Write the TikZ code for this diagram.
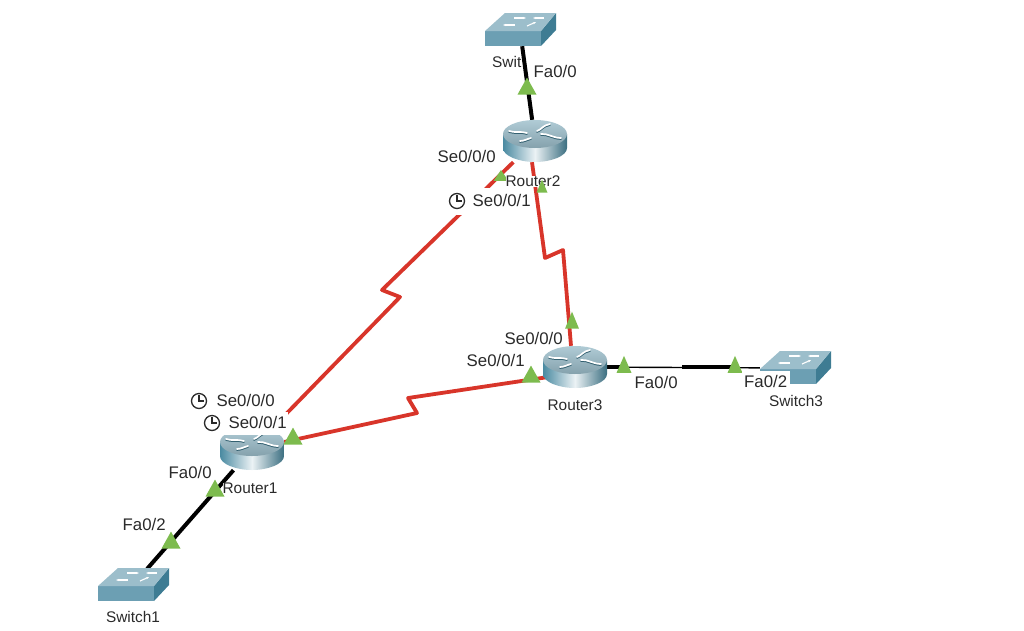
\documentclass[tikz,border=0pt]{standalone}
\usepackage{fontspec}
\setmainfont{Liberation Sans}
\usetikzlibrary{shapes.geometric, arrows.meta, positioning}

\definecolor{serialred}{HTML}{D8352A}
\definecolor{portgreen}{HTML}{7DBB4E}
\definecolor{capteal}{HTML}{9CBECB}
\definecolor{bodyteal}{HTML}{4A8AA1}
\definecolor{frontteal}{HTML}{6C9FB3}
\definecolor{sideteal}{HTML}{3E7C93}
\definecolor{labelgrey}{HTML}{2A2A2A}

\tikzset{
    devbox/.style={minimum width=64pt, minimum height=42pt, inner sep=0pt},
    swbox/.style={minimum width=70pt, minimum height=32pt, inner sep=0pt},
    seriallink/.style={serialred, line width=3.8pt, line join=round},
    copperlink/.style={black, line width=4pt},
    thinlink/.style={black, line width=1.4pt},
    porttri/.style={isosceles triangle, isosceles triangle stretches, shape border rotate=90,
        fill=portgreen, inner sep=0pt, minimum width=#1, minimum height=17pt},
    porttri/.default=19pt,
    devlabel/.style={text=labelgrey, inner sep=0pt, text height=11pt, text depth=0pt,
        font=\fontsize{15.4}{16}\selectfont},
    portlabel/.style={devlabel, fill=white, inner xsep=1.5pt, inner ysep=1pt,
        font=\fontsize{16.8}{17}\selectfont},
    clockic/.style={circle, draw=labelgrey, line width=1.3pt, minimum size=15pt, inner sep=0pt,
        path picture={\draw [labelgrey, line width=1.2pt]
            ([yshift=6pt]path picture bounding box.center) -- (path picture bounding box.center)
            -- ([xshift=5pt]path picture bounding box.center);}},
    routeric/.pic={
        \shade [left color=bodyteal, right color=bodyteal!80!black, middle color=white!80!capteal]
            (-32,-7) -- (-32,7) .. controls (-32,15) and (-16,21) .. (0,21)
            .. controls (16,21) and (32,15) .. (32,7) -- (32,-7) -- cycle;
        \shade [top color=capteal!80!white, bottom color=capteal!85!black]
            (0,-7) ellipse [x radius=32pt, y radius=14pt];
        \draw [bodyteal!70!black, line width=1.7pt, line cap=round]
            (-26,-9) .. controls (-20,-7) and (-14,-9) .. (-8,-7)
            (6,-6) .. controls (12,-7) and (18,-2) .. (26,-2)
            (2,-9) .. controls (6,-10) and (8,-15) .. (15,-16)
            (-4,-2) .. controls (-8,-1) and (-11,1) .. (-15,1);
        \draw [white, line width=1.7pt, line cap=round]
            (-26,-10) .. controls (-20,-8) and (-14,-10) .. (-8,-8)
            (6,-7) .. controls (12,-8) and (18,-3) .. (26,-3)
            (2,-10) .. controls (6,-11) and (8,-16) .. (15,-17)
            (-4,-3) .. controls (-8,-2) and (-11,0) .. (-15,0);
    },
    switchic/.pic={
        \fill [frontteal] (-35,1) rectangle (21,16);
        \fill [sideteal] (21,1) -- (36,-17) -- (36,0) -- (21,16) -- cycle;
        \fill [capteal] (-15,-17) -- (36,-17) -- (21,1) -- (-35,1) -- cycle;
        \draw [white, line width=1.1pt, -{Stealth[length=3pt]}] (-6,-12) -- (6,-12);
        \draw [white, line width=1.1pt, -{Stealth[length=3pt]}] (24,-12) -- (13,-12);
        \draw [white, line width=1.1pt, -{Stealth[length=3pt]}] (-5,-5) -- (-17,-5);
        \draw [white, line width=1.1pt, -{Stealth[length=3pt]}] (7,-4) -- (16,-8);
    },
}

\begin{document}
\begin{tikzpicture}[x=1pt, y=-1pt]
    \useasboundingbox (0,0) rectangle (1024,630);

    \node (router1) [devbox] at (252,449) {};
    \node (router2) [devbox] at (535,141) {};
    \node (router3) [devbox] at (575,367) {};
    \node (switch1) [swbox] at (133,585) {};
    \node (switch2) [swbox] at (520,30) {};
    \node (switch3) [swbox] at (795,368) {};
    \coordinate (thick1a) at (607,367);
    \coordinate (thick1b) at (625,367);
    \coordinate (thick2a) at (682,367);
    \coordinate (thick2b) at (735,367);

    % this label lies under the cable
    \node (nameswitch2) [devlabel, anchor=west] at (492,62) {Swit};

    \draw [copperlink] (switch2) -- (router2);
    \draw [copperlink] (router1) -- (switch1);
    \draw [thinlink] (router3) -- (switch3);
    \draw [copperlink] (thick1a) -- (thick1b);
    \draw [copperlink] (thick2a) -- (thick2b);
    \draw [seriallink] (router1) -- (400,297) -- (382,290) -- (router2);
    \draw [seriallink] ([xshift=-3pt]router2.south) -- (545,258) -- (563,250) -- ([xshift=-4pt]router3.north);
    \draw [seriallink] (router1) -- (417,413) -- (408,398) -- ([yshift=-6pt]router3.center);

    \pic at (switch1) {switchic};
    \pic at (switch2) {switchic};
    \pic at (switch3) {switchic};
    \pic at (router1) {routeric};
    \pic at (router2) {routeric};
    \pic at (router3) {routeric};

    \node (tri1) [porttri] at (215,491) {};
    \node (tri2) [porttri] at (171,543) {};
    \node (tri3) [porttri] at (293,439) {};
    \node (tri4) [porttri] at (527,89) {};
    \node (tri5) [porttri=15pt, minimum height=11pt] at (501,177) {};
    \node (tri6) [porttri=14pt] at (572,324) {};
    \node (tri7) [porttri] at (531,377) {};
    \node (tri8) [porttri=15pt] at (624,368) {};
    \node (tri9) [porttri=15pt] at (735,368) {};

    % white label boxes hide parts of the cables
    \node (r2se0) [portlabel, anchor=west] at (436,157) {Se0/0/0};
    \node (r2se1) [portlabel, anchor=west, inner ysep=8pt] at (447,201) {\hspace*{24pt}Se0/0/1};
    \node (r2fa0) [portlabel, anchor=west] at (532,72) {Fa0/0};
    \node (r1se0) [portlabel, anchor=west, inner ysep=3pt] at (188,401) {\hspace*{27pt}Se0/0/0};
    \node (r1se1) [portlabel, anchor=west, inner ysep=6pt] at (201,423) {\hspace*{26pt}Se0/0/1};
    \node (r1fa0) [portlabel, anchor=west] at (167,473) {Fa0/0};
    \node (s1fa2) [portlabel, anchor=west] at (121,525) {Fa0/2};
    \node (r3se0) [portlabel, anchor=west] at (503,339) {Se0/0/0};
    \node (r3se1) [portlabel, anchor=west] at (465,361) {Se0/0/1};
    \node (r3fa0) [portlabel, anchor=west] at (633,383) {Fa0/0};

    \node (clock1) [clockic] at (199,401) {};
    \node (clock2) [clockic] at (212,423) {};
    \node (clock3) [clockic] at (457,201) {};

    \node (namerouter1) [devlabel, fill=white] at (250,488) {Router1};
    \node (namerouter2) [devlabel, fill=white] at (533,181) {Router2};
    \node (namerouter3) [devlabel] at (575,405) {Router3};
    \node (nameswitch1) [devlabel] at (133,617) {Switch1};
    \node (nameswitch3) [devlabel] at (796,401) {Switch3};
    \node (s3fa2) [portlabel, anchor=west, inner ysep=6pt, inner xsep=2pt, text width=44pt] at (742,382) {Fa0/2};

    \node (tri10) [porttri=11pt, minimum height=13pt] at (542,189) {};
\end{tikzpicture}
\end{document}
